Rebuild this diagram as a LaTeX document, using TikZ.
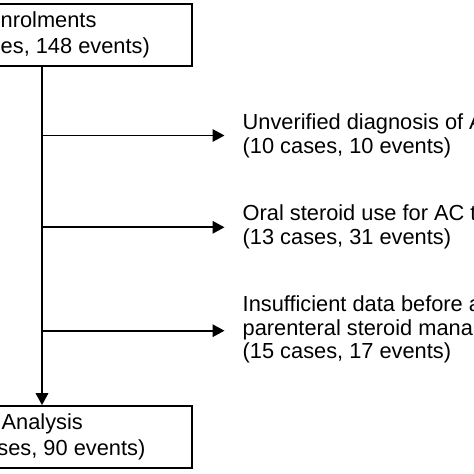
\documentclass[tikz,border=0pt]{standalone}
\usepackage{fontspec}
\setmainfont{Liberation Sans}
\usetikzlibrary{arrows.meta}
\begin{document}
\begin{tikzpicture}[x=1pt,y=-1pt,
  box/.style={draw, line width=1.7pt, inner sep=0, minimum width=252pt, minimum height=62pt},
  txt/.style={inner sep=0, anchor=base west, font=\fontsize{21.8}{24}\selectfont},
  txtr/.style={txt, anchor=base east},
  conn/.style={line width=1.7pt},
  arr/.style={conn, -{Triangle[length=12pt,width=12.5pt]}}]
\useasboundingbox (0,0) rectangle (474,474);
\clip (0,0) rectangle (474,474);
\fill[white] (0,0) rectangle (474,474);
% boxes
\node[box] (top) at (66,35) {};
\node[box] (bot) at (66,437) {};
\node[txt] (topa) at (-14,27.5) {Enrolments};
\node[txtr] (topb) at (150,53) {cases, 148 events)};
\node[txt] (bota) at (1.5,429.5) {Analysis};
\node[txtr] (botb) at (145.5,455) {cases, 90 events)};
% exclusions
\node[txt] (u1) at (242.5,129.3) {Unverified diagnosis of A};
\node[txt] (u2) at (242.5,153.3) {(10 cases, 10 events)};
\node[txt] (o1) at (242.5,220) {Oral steroid use for AC t};
\node[txt] (o2) at (242.5,244) {(13 cases, 31 events)};
\node[txt] (i1) at (242.5,311.7) {Insufficient data before a};
\node[txt] (i2) at (242.5,335) {parenteral steroid mana};
\node[txt] (i3) at (242.5,358) {(15 cases, 17 events)};
% connectors
\coordinate (v) at (42,0);
\coordinate (b1) at (42,135.5);
\coordinate (b2) at (42,227.3);
\coordinate (b3) at (42,330.7);
\draw[arr] (top.south -| v) -- (bot.north -| v);
\draw[arr, shorten >=18pt] (b1) -- (b1 -| u1.west);
\draw[arr, shorten >=18pt] (b2) -- (b2 -| o1.west);
\draw[arr, shorten >=18pt] (b3) -- (b3 -| i2.west);
\end{tikzpicture}
\end{document}
